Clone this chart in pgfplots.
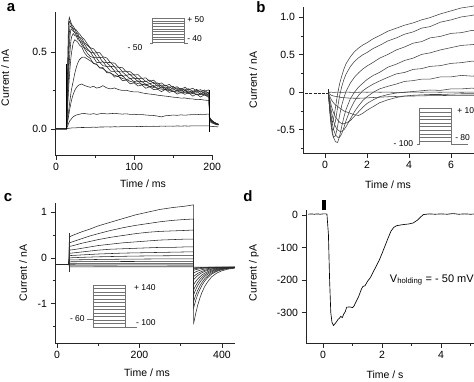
\documentclass[border=0pt]{standalone}
\usepackage{fontspec}
\setmainfont{Liberation Sans}
\usepackage{pgfplots}
\usepackage{pgfplotstable}
\pgfplotsset{compat=1.18}
\newcommand\lab{\fontsize{10.5}{12}\selectfont}
\newcommand\inl{\fontsize{8.5}{10}\selectfont}

\pgfplotstableread{
t a1 a2 a3 a4 a5 a6 a7 a8 a9 a10
0 0 0 0 0 0 0 0 0 0 0
13.5 0 0 0 0 0 0 0 0 0 0
14 .002 .01 .02 .03 .05 .07 .09 .11 .13 .15
15 .003 .02 .05 .07 .15 .20 .26 .32 .38 .45
16 .004 .035 .08 .11 .25 .33 .42 .50 .60 .69
17 .004 .045 .11 .15 .33 .43 .54 .62 .70 .725
18 .005 .055 .14 .19 .40 .51 .61 .67 .695 .71
19 .005 .06 .165 .23 .46 .57 .645 .665 .68 .695
20 .006 .068 .19 .26 .50 .60 .65 .66 .67 .68
22 .006 .078 .225 .31 .56 .62 .635 .648 .652 .668
24 .007 .085 .25 .36 .58 .607 .628 .625 .648 .651
26 .007 .09 .268 .40 .572 .603 .605 .622 .626 .643
28 .008 .093 .28 .43 .563 .58 .598 .602 .619 .627
30 .008 .095 .287 .45 .545 .575 .576 .594 .596 .618
33 .009 .099 .292 .465 .532 .546 .563 .571 .589 .597
36 .009 .10 .283 .467 .498 .525 .532 .554 .561 .583
40 .01 .097 .276 .455 .472 .493 .513 .522 .543 .553
44 .01 .095 .27 .442 .458 .470 .500 .499 .524 .527
48 .011 .099 .277 .428 .424 .464 .466 .495 .492 .521
52 .01 .094 .265 .417 .422 .432 .461 .465 .495 .496
56 .012 .098 .27 .398 .395 .431 .431 .463 .464 .495
60 .012 .101 .281 .392 .399 .411 .437 .435 .465 .469
65 .013 .097 .266 .373 .365 .406 .404 .430 .431 .461
70 .012 .099 .26 .362 .364 .375 .405 .406 .432 .429
75 .014 .101 .266 .348 .337 .373 .376 .404 .402 .428
80 .013 .098 .255 .341 .342 .347 .374 .372 .401 .400
85 .015 .096 .25 .328 .313 .347 .342 .370 .373 .398
90 .014 .098 .251 .321 .317 .321 .347 .348 .376 .371
95 .015 .094 .244 .309 .293 .327 .326 .354 .350 .372
100 .014 .095 .24 .302 .299 .307 .333 .326 .352 .350
105 .016 .092 .241 .294 .279 .313 .306 .329 .325 .353
110 .015 .093 .234 .291 .285 .287 .309 .304 .329 .328
115 .017 .09 .23 .283 .264 .293 .286 .311 .307 .332
120 .016 .088 .226 .276 .274 .272 .294 .293 .317 .308
125 .017 .087 .224 .269 .255 .282 .275 .303 .295 .317
130 .016 .083 .219 .266 .258 .260 .285 .277 .299 .290
135 .018 .078 .216 .258 .242 .273 .265 .285 .276 .299
140 .017 .085 .213 .256 .257 .253 .273 .262 .284 .280
145 .018 .087 .21 .249 .237 .262 .254 .273 .270 .289
150 .017 .09 .206 .246 .247 .241 .262 .257 .277 .267
155 .019 .088 .204 .239 .226 .251 .245 .267 .256 .274
160 .018 .091 .2 .241 .236 .233 .255 .246 .264 .256
165 .019 .089 .201 .234 .225 .25 .238 .26 .248 .271
170 .018 .091 .196 .236 .234 .229 .248 .238 .261 .254
175 .02 .093 .195 .229 .213 .238 .231 .248 .242 .264
180 .019 .092 .19 .226 .226 .221 .246 .237 .257 .247
185 .02 .095 .191 .223 .207 .232 .224 .246 .238 .255
190 .019 .094 .187 .221 .222 .220 .239 .229 .253 .243
195 .02 .096 .185 .215 .206 .228 .220 .239 .230 .253
196 .02 .095 .184 .214 .21 .225 .222 .236 .233 .25
196.5 .018 .05 .06 .065 .065 .068 .07 .072 .074 .076
199 .016 .04 .045 .05 .05 .052 .053 .055 .056 .058
202 .015 .033 .036 .04 .04 .041 .042 .043 .044 .045
205 .014 .028 .03 .033 .033 .034 .034 .035 .036 .037
208 .013 .025 .026 .028 .028 .028 .029 .029 .03 .03
}\tabA

\pgfplotstableread{
t b1 b2 b3 b4 b5 b6 b7 b8 b9 b10
0.15 -.01 -.01 -.01 -.01 -.01 -.01 -.01 -.01 -.01 -.01
0.2 -.15 -.15 -.15 -.12 -.10 -.08 -.06 -.04 -.02 0
0.25 -.30 -.32 -.33 -.28 -.22 -.17 -.12 -.07 -.03 0
0.3 -.38 -.44 -.47 -.42 -.33 -.25 -.18 -.10 -.04 .002
0.35 -.40 -.50 -.56 -.52 -.42 -.32 -.23 -.12 -.045 0
0.4 -.36 -.50 -.60 -.60 -.49 -.38 -.27 -.14 -.05 -.002
0.5 -.20 -.38 -.58 -.66 -.57 -.46 -.33 -.17 -.055 0
0.6 -.02 -.20 -.45 -.67 -.60 -.50 -.37 -.19 -.06 .002
0.7 .12 -.04 -.30 -.58 -.60 -.52 -.40 -.21 -.065 0
0.8 .22 .08 -.17 -.45 -.55 -.52 -.42 -.23 -.07 -.002
0.9 .31 .17 -.07 -.33 -.47 -.50 -.42 -.25 -.072 0
1.0 .38 .24 .01 -.23 -.38 -.46 -.41 -.26 -.075 .002
1.2 .47 .34 .12 -.09 -.23 -.36 -.38 -.28 -.078 0
1.4 .54 .41 .20 0 -.12 -.26 -.32 -.30 -.08 -.002
1.6 .59 .46 .26 .07 -.04 -.18 -.26 -.31 -.08 0
1.8 .63 .50 .31 .12 .02 -.11 -.20 -.28 -.078 .002
2.0 .66 .53 .35 .17 .06 -.06 -.15 -.24 -.075 0
2.3 .715 .585 .40 .225 .11 0 -.10 -.19 -.07 .003
2.6 .755 .625 .455 .265 .15 .045 -.06 -.14 -.066 0
3.0 .815 .685 .505 .335 .20 .08 -.03 -.10 -.06 .002
3.4 .855 .725 .565 .375 .245 .11 -.01 -.07 -.056 -.002
3.8 .895 .775 .605 .425 .265 .145 0 -.05 -.052 0
4.2 .925 .805 .655 .455 .305 .155 .01 -.04 -.05 .003
4.6 .965 .855 .675 .505 .315 .175 .02 -.035 -.048 0
5.0 .995 .875 .725 .525 .345 .175 .03 -.03 -.045 .002
5.5 1.045 .935 .745 .565 .355 .205 .025 -.03 -.044 0
6.0 1.085 .965 .785 .595 .385 .205 .045 -.025 -.042 .003
6.5 1.125 1.005 .795 .625 .395 .225 .045 -.02 -.04 0
7.0 1.145 1.025 .825 .635 .415 .215 .055 -.02 -.04 .002
7.2 1.16 1.04 .82 .64 .41 .22 .05 -.02 -.04 0
}\tabB

\pgfplotstableread{
t c1 c2 c3 c4 c5 c6 c7 c8 c9 c10 c11 c12 c13
-4 -.14 -.14 -.14 -.14 -.14 -.14 -.14 -.14 -.14 -.14 -.14 -.14 -.14
29 -.14 -.14 -.14 -.14 -.14 -.14 -.14 -.14 -.14 -.14 -.14 -.14 -.14
30 .46 .33 .25 .17 .10 .05 0 -.045 -.085 -.12 -.15 -.175 -.195
40 .50 .36 .27 .18 .11 .055 .005 -.043 -.084 -.12 -.15 -.175 -.195
60 .57 .42 .32 .21 .13 .065 .012 -.04 -.083 -.12 -.151 -.176 -.195
80 .63 .48 .36 .24 .15 .075 .018 -.037 -.082 -.12 -.151 -.176 -.195
100 .70 .53 .40 .27 .17 .085 .024 -.034 -.081 -.12 -.152 -.177 -.195
130 .78 .60 .45 .30 .19 .095 .03 -.031 -.08 -.12 -.152 -.177 -.195
160 .86 .66 .49 .33 .20 .105 .035 -.028 -.079 -.12 -.153 -.178 -.195
190 .94 .71 .53 .35 .21 .11 .04 -.026 -.078 -.12 -.153 -.178 -.195
220 1.0 .75 .56 .37 .22 .115 .043 -.024 -.077 -.12 -.154 -.179 -.195
250 1.06 .79 .58 .39 .23 .12 .046 -.022 -.076 -.12 -.154 -.179 -.195
280 1.10 .82 .59 .40 .23 .125 .048 -.021 -.076 -.12 -.155 -.18 -.195
310 1.13 .84 .60 .41 .24 .13 .05 -.02 -.075 -.12 -.155 -.18 -.195
331 1.16 .85 .61 .41 .24 .13 .05 -.02 -.075 -.12 -.155 -.18 -.195
331 -1.45 -1.1 -.96 -.81 -.7 -.59 -.48 -.41 -.33 -.27 -.24 -.22 -.2
332 -1.40 -1.064 -.93 -.786 -.68 -.574 -.469 -.402 -.325 -.267 -.238 -.219 -.2
336 -1.225 -.938 -.823 -.7 -.61 -.52 -.43 -.372 -.307 -.257 -.233 -.216 -.2
341 -1.038 -.803 -.709 -.609 -.535 -.461 -.388 -.341 -.287 -.247 -.227 -.213 -.2
346 -.888 -.695 -.618 -.536 -.475 -.415 -.354 -.316 -.272 -.239 -.222 -.211 -.2
351 -.763 -.605 -.542 -.475 -.425 -.376 -.326 -.295 -.259 -.232 -.218 -.209 -.2
358 -.625 -.506 -.458 -.407 -.37 -.333 -.295 -.271 -.244 -.224 -.214 -.207 -.2
365 -.525 -.434 -.398 -.359 -.33 -.301 -.273 -.255 -.234 -.218 -.21 -.205 -.2
375 -.413 -.353 -.329 -.304 -.285 -.266 -.248 -.236 -.222 -.212 -.207 -.203 -.2
387 -.334 -.296 -.281 -.265 -.254 -.242 -.23 -.222 -.214 -.207 -.204 -.202 -.2
399 -.283 -.259 -.25 -.24 -.233 -.226 -.218 -.214 -.209 -.205 -.203 -.201 -.2
415 -.244 -.232 -.227 -.221 -.218 -.214 -.21 -.207 -.205 -.202 -.201 -.2 -.2
431 -.223 -.216 -.214 -.211 -.209 -.207 -.205 -.204 -.202 -.201 -.2 -.2 -.2
}\tabC

\pgfplotsset{
  panel/.style={scale only axis, anchor=south west,
    axis x line*=bottom, axis y line*=left, tick pos=left, tick align=outside,
    major tick length=4.5pt, minor tick length=2.5pt,
    axis line style={line width=0.7pt, black!85},
    tick style={black!85, line width=0.7pt},
    tick label style={font=\lab},
    clip=false},
  tr/.style={black!85, line width=0.55pt, mark=none},
  ins/.style={black!55, line width=0.4pt, mark=none},
}

\begin{document}
\begin{tikzpicture}
\useasboundingbox (0,0) rectangle (474pt,381pt);
\clip (0,0) rectangle (474pt,381pt);

% ---------- a ----------
\begin{axis}[panel, at={(55pt,226pt)}, width=158pt, height=143pt,
  xmin=-1.3, xmax=201, ymin=-0.17, ymax=0.76,
  xtick={0,100,200}, xticklabels={0,100,200}, minor xtick={50,150},
  ytick={0,0.5}, yticklabels={0.0,0.5}, minor ytick={0.25}]
\pgfplotsinvokeforeach{a1,a2,a3,a4,a5,a6,a7,a8,a9,a10}{
  \addplot[tr] table[x=t,y=#1]{\tabA};}
\addplot[black, line width=1.1pt] coordinates {(13.6,0) (13.6,0.42)};
\addplot[black, line width=0.6pt] coordinates {(196,0.25) (196,-0.02)};
\pgfplotsinvokeforeach{0.565,0.582,0.599,0.616,0.634,0.651,0.668,0.685,0.702,0.719}{
  \addplot[ins] coordinates {(122.7,#1) (164.5,#1)};}
\addplot[ins] coordinates {(120.5,0.555) (122.7,0.555) (122.7,0.719)};
\addplot[ins] coordinates {(164.5,0.719) (164.5,0.555) (169,0.555)};
\node[anchor=west, font=\inl, inner sep=1pt] at (axis cs:166.5,0.712) {+ 50};
\node[anchor=west, font=\inl, inner sep=1pt] at (axis cs:166.5,0.59) {- 40};
\node[anchor=east, font=\inl, inner sep=1pt] at (axis cs:112,0.526) {- 50};
\end{axis}

% ---------- b ----------
\begin{axis}[panel, at={(303pt,228pt)}, width=171pt, height=146pt,
  xmin=-1.05, xmax=7.1, ymin=-0.81, ymax=1.137,
  xtick={0,2,4,6}, xticklabels={0,2,4,6},
  ytick={-0.5,0,0.5,1}, yticklabels={-0.5,0,0.5,1.0},
  minor ytick={-0.75,-0.25,0.25,0.75}]
\addplot[tr, dash pattern=on 3pt off 1.2pt] coordinates {(-0.95,-0.01) (0.15,-0.01)};
\pgfplotsinvokeforeach{b1,b2,b3,b4,b5,b6,b7,b8,b9,b10}{
  \addplot[tr, black!75] table[x=t,y=#1]{\tabB};}
\addplot[tr] coordinates {(0.17,-0.01) (0.17,0.05)};
\pgfplotsinvokeforeach{-0.65,-0.602,-0.554,-0.506,-0.458,-0.409,-0.361,-0.313,-0.265,-0.217}{
  \addplot[ins] coordinates {(4.49,#1) (6.03,#1)};}
\addplot[ins] coordinates {(4.38,-0.697) (4.49,-0.697) (4.49,-0.217)};
\addplot[ins] coordinates {(6.03,-0.217) (6.03,-0.697) (6.8,-0.697)};
\node[anchor=west, font=\inl, inner sep=1pt] at (axis cs:6.25,-0.24) {+ 10};
\node[anchor=west, font=\inl, inner sep=1pt] at (axis cs:6.15,-0.6) {- 80};
\node[anchor=east, font=\inl, inner sep=1pt] at (axis cs:4.25,-0.68) {- 100};
\end{axis}

% ---------- c ----------
\begin{axis}[panel, at={(55pt,38pt)}, width=180pt, height=140pt,
  xmin=-4.8, xmax=431.5, ymin=-1.86, ymax=1.2,
  xtick={0,200,400}, xticklabels={0,200,400}, minor xtick={100,300},
  ytick={-1,0,1}, yticklabels={-1,0,1}, minor ytick={-1.5,-0.5,0.5}]
\pgfplotsinvokeforeach{c1,c2,c3,c4,c5,c6,c7,c8,c9,c10,c11,c12,c13}{
  \addplot[tr] table[x=t,y=#1]{\tabC};}
\addplot[black!80, line width=0.8pt] coordinates {(29,-0.3) (29,0.54)};
\pgfplotsinvokeforeach{-1.51,-1.433,-1.357,-1.28,-1.203,-1.127,-1.05,-0.973,-0.897,-0.82,-0.743,-0.667,-0.59}{
  \addplot[ins] coordinates {(88,#1) (164.8,#1)};}
\addplot[ins] coordinates {(72.7,-1.34) (88,-1.34)};
\addplot[ins] coordinates {(88,-1.51) (88,-0.59)};
\addplot[ins] coordinates {(164.8,-0.59) (164.8,-1.51) (194,-1.51)};
\node[anchor=west, font=\inl, inner sep=1pt] at (axis cs:184,-0.656) {+ 140};
\node[anchor=west, font=\inl, inner sep=1pt] at (axis cs:189,-1.42) {- 100};
\node[anchor=east, font=\inl, inner sep=1pt] at (axis cs:70,-1.32) {- 60};
\end{axis}

% ---------- d ----------
\begin{axis}[panel, at={(306pt,38pt)}, width=168pt, height=133pt,
  xmin=-0.58, xmax=5.115, ymin=-394, ymax=15,
  xtick={0,2,4}, xticklabels={0,2,4}, minor xtick={1,3,5},
  ytick={-300,-200,-100,0}, yticklabels={-300,-200,-100,0}]
\addplot[black, line width=0.65pt] coordinates {
(-0.5,2) (-0.4,3) (-0.3,2) (-0.2,3) (-0.1,2) (0,3) (0.1,3) (0.13,2)
(0.18,-60) (0.22,-200) (0.26,-300) (0.3,-330) (0.35,-340) (0.4,-335)
(0.46,-328) (0.5,-322) (0.55,-318) (0.6,-312) (0.65,-316) (0.7,-305)
(0.75,-298) (0.8,-284) (0.9,-283) (1.0,-285) (1.05,-280) (1.1,-270)
(1.2,-252) (1.3,-228) (1.35,-220) (1.42,-218) (1.5,-205) (1.6,-193)
(1.7,-175) (1.8,-158) (1.9,-140) (2.0,-118) (2.1,-95) (2.2,-72)
(2.3,-50) (2.4,-38) (2.5,-33) (2.7,-30) (2.9,-28) (3.05,-25) (3.2,-16)
(3.3,-7) (3.4,1) (3.6,3) (3.8,2) (4.0,3) (4.2,2) (4.4,4) (4.6,2)
(4.8,3) (5.0,2) (5.2,3)};
\addplot[black, line width=4pt] coordinates {(0.035,15) (0.035,46)};
\node[anchor=west, font=\fontsize{11}{12}\selectfont, inner sep=0pt] at (axis cs:2.26,-200) {V\textsubscript{holding} = - 50 mV};
\end{axis}

% labels
\node[rotate=90, font=\lab] at (5pt,303pt) {Current / nA};
\node[font=\lab] at (143pt,197pt) {Time / ms};
\node[rotate=90, font=\lab] at (253pt,301pt) {Current / nA};
\node[font=\lab] at (388pt,196pt) {Time / ms};
\node[rotate=90, font=\lab] at (23pt,108pt) {Current / nA};
\node[font=\lab] at (147pt,8pt) {Time / ms};
\node[rotate=90, font=\lab] at (254pt,108pt) {Current / pA};
\node[font=\lab] at (385pt,6.5pt) {Time / s};
\node[font=\fontsize{15}{15}\selectfont\bfseries] at (11pt,373pt) {a};
\node[font=\fontsize{15}{15}\selectfont\bfseries] at (261pt,374pt) {b};
\node[font=\fontsize{15}{15}\selectfont\bfseries] at (8pt,183pt) {c};
\node[font=\fontsize{15}{15}\selectfont\bfseries] at (248pt,185pt) {d};
\end{tikzpicture}
\end{document}
